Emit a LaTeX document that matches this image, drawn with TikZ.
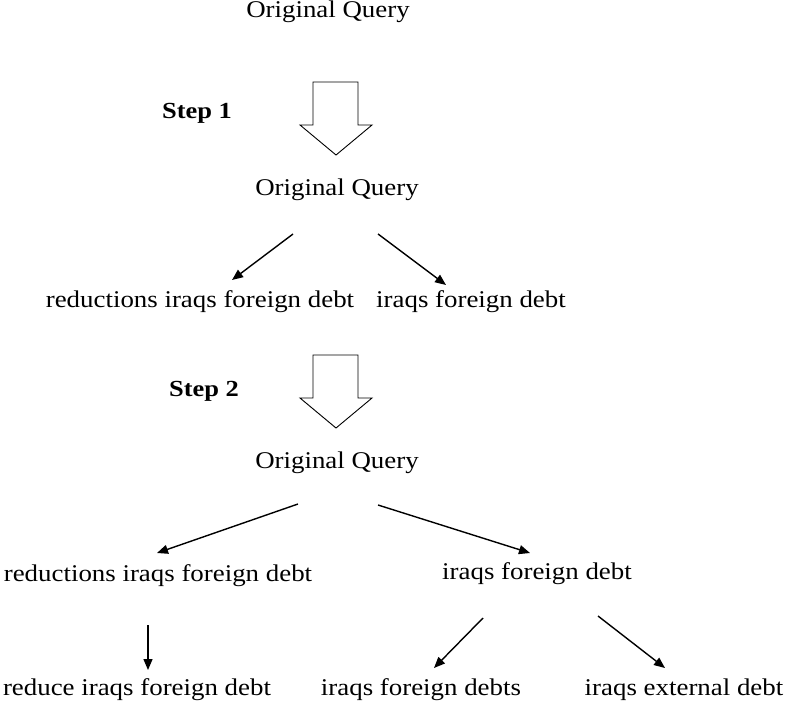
\documentclass[tikz,border=0pt]{standalone}
\usepackage{fontspec}
\setmainfont{Liberation Serif}
\usetikzlibrary{arrows.meta}
\begin{document}
\begin{tikzpicture}[x=1pt,y=-1pt,
  lbl/.style={font=\fontsize{24}{26}\selectfont, inner sep=0pt, xscale=1.12},
  stp/.style={font=\fontsize{23}{25}\selectfont\bfseries, inner sep=0pt, xscale=1.15},
  arr/.style={-{Triangle[length=11pt,width=9pt]}, line width=1.4pt},
  hollow/.style={draw=black, line width=0.9pt, fill=white}]
\useasboundingbox (0,0) rectangle (786,703);
\node[lbl] (q0) at (328,12) {Original Query};
\node[stp] (s1) at (197,113) {Step 1};
\draw[hollow] (313,82) -- (358,82) -- (358,125) -- (372,125) -- (336,155) -- (300,125) -- (313,125) -- cycle;
\node[lbl] (q1) at (337,190) {Original Query};
\coordinate (a1s) at (293,234); \coordinate (a1e) at (232,280);
\coordinate (a2s) at (378,234); \coordinate (a2e) at (446,285);
\draw[arr] (a1s) -- (a1e);
\draw[arr] (a2s) -- (a2e);
\node[lbl] (r1) at (200,302) {reductions iraqs foreign debt};
\node[lbl] (f1) at (471,302) {iraqs foreign debt};
\node[stp] (s2) at (204,391) {Step 2};
\draw[hollow] (313,355) -- (358,355) -- (358,398) -- (372,398) -- (336,428) -- (300,398) -- (313,398) -- cycle;
\node[lbl] (q2) at (337,463) {Original Query};
\coordinate (b1s) at (298,504); \coordinate (b1e) at (157,553);
\coordinate (b2s) at (378,505); \coordinate (b2e) at (530,553);
\draw[arr] (b1s) -- (b1e);
\draw[arr] (b2s) -- (b2e);
\node[lbl] (r2) at (158,576) {reductions iraqs foreign debt};
\node[lbl] (f2) at (537,574) {iraqs foreign debt};
\coordinate (c1s) at (148,625); \coordinate (c1e) at (148,670);
\coordinate (c2s) at (483,618); \coordinate (c2e) at (434,668);
\coordinate (c3s) at (598,616); \coordinate (c3e) at (665,668);
\draw[arr] (c1s) -- (c1e);
\draw[arr] (c2s) -- (c2e);
\draw[arr] (c3s) -- (c3e);
\node[lbl] (d1) at (137,690) {reduce iraqs foreign debt};
\node[lbl] (d2) at (421,690) {iraqs foreign debts};
\node[lbl] (d3) at (684,690) {iraqs external debt};
\end{tikzpicture}
\end{document}
